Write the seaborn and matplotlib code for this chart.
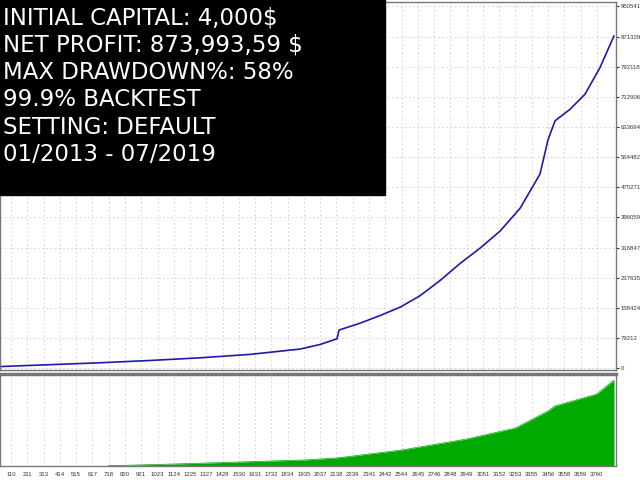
import numpy as np
import matplotlib
matplotlib.use("Agg")
import matplotlib.pyplot as plt
import seaborn as sns
import pandas as pd

trades = [41, 353, 665, 976, 1288, 1599, 1911, 2035, 2141, 2154, 2285, 2409, 2534, 2658,
          2783, 2908, 3032, 3157, 3282, 3406, 3456, 3500, 3593, 3687, 3780, 3867]
balance = [4000, 9000, 14000, 20000, 27000, 36000, 50000, 62000, 77000, 100000, 118000, 138000,
           160000, 190000, 230000, 275000, 315000, 360000, 420000, 510000, 600000, 650000,
           680000, 720000, 790000, 873000]
lot_trades = [718, 820, 1124, 1935, 2138, 2544, 2949, 3253, 3456, 3500, 3760, 3867]
lots = [0.5, 0.7, 2, 6, 8, 16, 27, 38, 55, 60, 72, 86]
yticks = [0, 79212, 158424, 237635, 316847, 396059, 475271, 554482, 633694, 712906, 792118, 871329, 950541]
xticks = [110, 211, 313, 414, 515, 617, 718, 820, 921, 1023, 1124, 1225, 1327, 1428, 1530, 1631,
          1732, 1834, 1935, 2037, 2138, 2239, 2341, 2442, 2544, 2645, 2746, 2848, 2949, 3051, 3152,
          3253, 3355, 3456, 3558, 3659, 3760]
lines = ["INITIAL CAPITAL: 4,000$", "NET PROFIT: 873,993,59 $", "MAX DRAWDOWN%: 58%",
         "99.9% BACKTEST", "SETTING: DEFAULT", "01/2013 - 07/2019"]

sns.set_style("white")
fig = plt.figure(figsize=(6.4, 4.8), dpi=100)
W, H = 640, 480
xl = (110 - 11 / 0.1605, 110 + (616 - 11) / 0.1605)

ax = fig.add_axes([0, 1 - 370 / H, 616 / W, 368 / H])
df = pd.DataFrame({"t": trades, "b": balance})
sns.lineplot(data=df, x="t", y="b", ax=ax, color="#1c1ca8", lw=1.2)
ax.set_xlim(*xl)
ax.set_ylim(-5000, 962000)
ax.yaxis.tick_right()
ax.set_yticks(yticks)
ax.set_yticklabels([str(v) for v in yticks], fontsize=4.3, fontfamily="Liberation Sans")
ax.set_xticks(xticks)
ax.tick_params(axis="x", length=0, labelbottom=False)
ax.tick_params(axis="y", length=2.5, pad=1, colors="#333333")
ax.grid(True, ls=(0, (2, 3)), color="#cccccc", lw=0.6)
ax.set_xlabel(""); ax.set_ylabel("")
for s in ax.spines.values():
    s.set_color("#777777"); s.set_linewidth(1)

ax2 = fig.add_axes([0, 1 - 466 / H, 616 / W, 92 / H])
df2 = pd.DataFrame({"t": lot_trades, "l": lots})
sns.lineplot(data=df2, x="t", y="l", ax=ax2, color="#00aa00", lw=0.5)
ax2.fill_between(lot_trades, lots, color="#00aa00", lw=0)
ax2.set_xlim(*xl)
ax2.set_ylim(0, 92)
ax2.set_yticks([])
ax2.set_xticks(xticks)
ax2.set_xticklabels([str(v) for v in xticks], fontsize=4.3, fontfamily="Liberation Sans")
ax2.tick_params(axis="x", length=3, pad=1, colors="#333333")
ax2.grid(True, axis="x", ls=(0, (2, 3)), color="#cccccc", lw=0.6)
ax2.set_xlabel(""); ax2.set_ylabel("")
for s in ax2.spines.values():
    s.set_color("#777777"); s.set_linewidth(1)
ax2.spines["top"].set_linewidth(2.5)

fig.patches.append(plt.Rectangle((0, 1 - 195 / H), 385 / W, 195 / H, transform=fig.transFigure,
                                 color="black", zorder=5))
for i, t in enumerate(lines):
    fig.text(3 / W, 1 - (18 + 27.3 * i) / H, t, color="white", fontsize=16.5, va="center",
             ha="left", zorder=6)

fig.savefig("out.png", dpi=100, facecolor="white")
